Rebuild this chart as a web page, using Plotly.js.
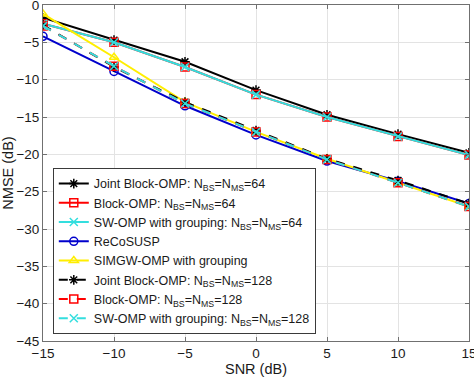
<!DOCTYPE html>
<html><head><meta charset="utf-8">
<script src="https://cdn.plot.ly/plotly-3.0.1.min.js"></script>
<style>html,body{margin:0;padding:0;background:#fff}</style>
</head><body><div id="c" style="width:474px;height:382px"></div>
<script>
const snr = [-15,-10,-5,0,5,10,15];
const jointBOMP64 = [-1.7,-4.7,-7.6,-11.4,-14.7,-17.3,-19.8];
const bomp64 = [-2.5,-5.0,-8.3,-12.0,-15.0,-17.6,-20.1];
const swomp64 = [-2.5,-5.0,-8.3,-12.0,-15.0,-17.6,-20.1];
const recosusp = [-4.2,-8.9,-13.5,-17.4,-20.9,-23.6,-26.6];
const simgw = [-1.2,-7.0,-13.0,-17.0,-20.6,-23.8,-27.0];
const jointBOMP128 = [-2.7,-8.3,-13.0,-16.8,-20.6,-23.5,-26.6];
const bomp128 = [-2.8,-8.2,-13.2,-17.0,-20.7,-23.8,-27.0];
const swomp128 = [-2.8,-8.2,-13.2,-17.0,-20.7,-23.8,-27.0];
const xTicks = [-15,-10,-5,0,5,10,15];
const yTicks = [0,-5,-10,-15,-20,-25,-30,-35,-40,-45];
const names = [
 'Joint Block-OMP: N<sub>BS</sub>=N<sub>MS</sub>=64',
 'Block-OMP: N<sub>BS</sub>=N<sub>MS</sub>=64',
 'SW-OMP with grouping: N<sub>BS</sub>=N<sub>MS</sub>=64',
 'ReCoSUSP',
 'SIMGW-OMP with grouping',
 'Joint Block-OMP: N<sub>BS</sub>=N<sub>MS</sub>=128',
 'Block-OMP: N<sub>BS</sub>=N<sub>MS</sub>=128',
 'SW-OMP with grouping: N<sub>BS</sub>=N<sub>MS</sub>=128'
];
const ys = [jointBOMP64,bomp64,swomp64,recosusp,simgw,jointBOMP128,bomp128,swomp128];
const colors = ['#000000','#ff0000','#33dede','#0000cc','#ffee00','#000000','#ff0000','#33dede'];
const symbols = ['asterisk-open','square-open','x-thin-open','circle-open','triangle-up-open','asterisk-open','square-open','x-thin-open'];
const dashes = ['solid','solid','solid','solid','solid','dash','dash','dash'];
const traces = ys.map((y,i)=>({
  x: snr, y: y, name: names[i], type:'scatter', mode:'lines+markers',
  line:{color:colors[i], width:2, dash:dashes[i]},
  marker:{symbol:symbols[i], size:8, color:colors[i], line:{color:colors[i], width:1.5}}
}));
const axisCommon = {showline:true, linecolor:'#707070', linewidth:1, mirror:'ticks', ticks:'inside', ticklen:4, tickcolor:'#707070',
  showgrid:true, gridcolor:'#e3e3e3', zeroline:false, ticklabeloverflow:'allow',
  tickfont:{family:'Liberation Sans, Arial', size:13.5, color:'#1a1a1a'}};
const layout = {
  width:474, height:382, margin:{l:43,r:5,t:5,b:41},
  paper_bgcolor:'#fff', plot_bgcolor:'#fff',
  font:{family:'Liberation Sans, Arial', size:13, color:'#1a1a1a'},
  xaxis:Object.assign({}, axisCommon, {range:[-15,15], tickvals:xTicks, title:{text:'SNR (dB)', font:{size:14.5}, standoff:3}}),
  yaxis:Object.assign({}, axisCommon, {range:[-45,0], tickvals:yTicks, title:{text:'NMSE (dB)', font:{size:14.5}, standoff:0}}),
  showlegend:true,
  legend:{x:0.023, y:0.515, xanchor:'left', yanchor:'top', bgcolor:'#fff', bordercolor:'#3a3a3a', borderwidth:1,
    font:{family:'Liberation Sans, Arial', size:12.5, color:'#1a1a1a'}, tracegroupgap:0, itemwidth:30}
};
Plotly.newPlot('c', traces, layout, {displayModeBar:false, staticPlot:true});
</script></body></html>
